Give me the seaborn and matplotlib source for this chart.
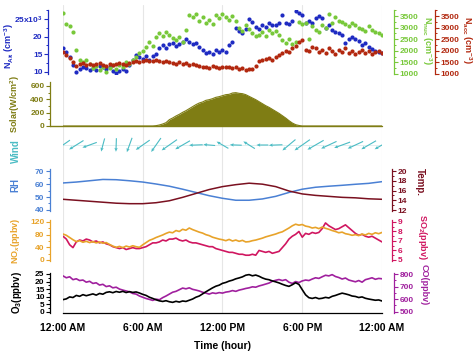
import numpy as np
import matplotlib
matplotlib.use('Agg')
import matplotlib.pyplot as plt
import seaborn as sns
from matplotlib.ticker import AutoMinorLocator, MultipleLocator

sns.set_style('white')
plt.rcParams['font.family'] = ['Liberation Sans', 'DejaVu Sans']
plt.rcParams['font.weight'] = 'bold'
plt.rcParams['mathtext.fontset'] = 'custom'
plt.rcParams['mathtext.rm'] = 'Liberation Sans:bold'
plt.rcParams['mathtext.bf'] = 'Liberation Sans:bold'
plt.rcParams['mathtext.it'] = 'Liberation Sans:bold:italic'

# ---------------- data ----------------
hours = np.arange(0, 24.01, 0.25)          # 15-min time axis (hours)
hourly = np.arange(0, 25)                  # hourly time axis
time_ticks = [0, 6, 12, 18, 24]
time_labels = ['12:00 AM', '6:00 AM', '12:00 PM', '6:00 PM', '12:00 AM']

n_ait = [16.8, 15.7, 14.3, 12.0, 10.0, 10.8, 11.5, 11.0, 10.6, 11.2, 10.5, 11.8,
         11.3, 10.9, 11.5, 10.2, 9.8, 10.4, 10.9, 10.3, 12.0, 13.5, 14.8, 14.2,
         13.6, 14.5, 13.3, 14.6, 15.2, 16.8, 17.5, 16.9, 17.8, 18.2, 17.3, 17.9,
         18.6, 19.2, 18.4, 17.8, 18.3, 17.2, 16.1, 15.3, 15.8, 15.0, 16.2, 15.7,
         16.1, 15.6, 17.5, 18.6, 22.5, 21.5, 21.0, 22.2, 25.0, 24.2, 22.6, 22.2,
         23.4, 22.8, 23.9, 23.2, 23.2, 23.9, 26.0, 24.0, 23.6, 24.5, 27.4, 26.6,
         26.2, 24.0, 24.3, 23.8, 25.2, 25.8, 25.4, 22.4, 23.3, 22.0, 21.3, 21.0,
         20.6, 18.2, 19.4, 20.0, 19.3, 18.7, 17.6, 18.2, 17.0, 16.4, 15.9, 15.7,
         15.4]
n_nuc = [3630, 3150, 3080, 2800, 2050, 1600, 1500, 1620, 1450, 1250, 1350, 1180,
         1300, 1100, 1250, 1400, 1200, 1390, 1300, 1500, 1450, 1600, 1750, 1900,
         2000, 2160, 2380, 2200, 2600, 2750, 2650, 2800, 2700, 2550, 2450, 2600,
         2400, 2900, 3550, 3450, 3600, 3300, 3450, 3200, 3350, 3150, 3550, 3400,
         3600, 3450, 3350, 3500, 3300, 3000, 2850, 3100, 2950, 2750, 2650, 2700,
         2800, 2650, 2900, 2750, 2850, 2700, 2450, 2350, 2500, 2300, 2400, 3250,
         3150, 3200, 2500, 3050, 2900, 2800, 3100, 3000, 3600, 3200, 3450, 3300,
         3250, 3150, 3050, 3200, 3100, 3000, 2950, 2850, 3050, 2900, 2800, 2750,
         2700]
n_acc = [1950, 1800, 1700, 1500, 1350, 1420, 1460, 1400, 1450, 1380, 1420, 1470,
         1400, 1350, 1430, 1380, 1420, 1470, 1450, 1400, 1480, 1520, 1550, 1500,
         1560, 1600, 1580, 1550, 1600, 1580, 1520, 1560, 1500, 1480, 1450, 1500,
         1430, 1460, 1400, 1420, 1380, 1350, 1300, 1320, 1280, 1330, 1300, 1270,
         1320, 1290, 1310, 1250, 1300, 1220, 1260, 1180, 1230, 1200, 1350, 1550,
         1600, 1650, 1700, 1620, 1750, 1800, 1900, 2000, 1950, 2100, 2200, 2400,
         2450, 2050, 2000, 2150, 2100, 1950, 2050, 1900, 2100, 2000, 1850, 2050,
         1950, 2100, 1900, 2000, 1850, 1950, 2050, 1900, 2000, 1850, 1950, 2000,
         1900]
solar = [0] * 28 + [5, 15, 30, 50, 95, 120, 150, 175, 205, 230, 260, 290,
                    320, 345, 360, 385, 395, 410, 430, 440, 455, 470, 475, 495,
                    500, 490, 485, 470, 445, 420, 395, 365, 335, 305, 280, 250,
                    220, 190, 155, 120, 80, 45, 20, 8] + [0] * 25
wind_dir = [215, 212, 200, 255, 268, 250, 215, 235, 215, 210, 182, 175, 150,
            178, 148, 180, 182, 220, 215, 210, 205, 200, 205, 210, 210]
wind_speed = [1.0, 1.0, 0.9, 0.8, 0.8, 0.9, 1.0, 1.0, 1.1, 1.0, 0.8, 0.7, 0.8,
              0.7, 0.8, 0.7, 0.8, 1.0, 1.1, 1.1, 1.0, 1.0, 1.0, 1.0, 1.0]
rh = [60.8, 61.5, 62.5, 63.5, 63.3, 62.5, 61.5, 60.0, 58.3, 56.0, 53.5, 51.0, 49.0,
      47.5, 47.5, 48.5, 50.5, 53.5, 56.0, 57.5, 58.3, 59.0, 59.8, 60.5, 61.8]
temp = [14.2, 14.0, 13.8, 13.6, 13.4, 13.3, 13.3, 13.5, 13.9, 14.6, 15.4, 16.2, 16.8,
        17.2, 17.5, 17.3, 16.8, 15.9, 15.3, 15.0, 14.8, 14.6, 14.5, 14.3, 14.2]
nox = [82, 78, 71, 64, 58, 61, 56, 59, 55, 58, 54, 57, 53, 55, 49, 44, 40, 43, 39, 44,
       41, 45, 42, 40, 48, 55, 62, 66, 71, 75, 79, 84, 88, 86, 93, 90, 97, 94, 101, 96,
       92, 88, 85, 80, 77, 72, 69, 66, 64, 61, 65, 60, 63, 59, 62, 57, 58, 61, 63, 66,
       69, 73, 76, 79, 82, 86, 89, 95, 101, 108, 113, 110, 112, 107, 105, 101,
       103, 99, 104, 100, 97, 93, 90, 86, 88, 83, 81, 78, 80, 77, 82, 79,
       84, 81, 86, 83, 87]
so2 = [7.5, 7.2, 6.6, 6.3, 6.9, 7.1, 7.0, 7.2, 7.1, 6.9, 7.0, 6.8, 6.9, 6.7, 6.6, 6.4,
       6.3, 6.2, 6.3, 6.1, 6.2, 6.3, 6.2, 6.2, 6.3, 6.4, 6.6, 6.8, 6.8, 6.9, 7.1, 7.0,
       7.2, 7.2, 7.3, 7.1, 7.0, 7.1, 6.9, 6.8, 6.8, 6.7, 6.6, 6.5, 6.4, 6.4, 6.2, 6.1,
       6.0, 5.9, 5.8, 5.8, 5.7, 5.6, 5.6, 5.5, 5.5, 5.6, 5.5, 6.0, 5.9, 5.8, 5.9, 5.7,
       5.8, 5.9, 6.3, 6.7, 7.2, 7.5, 7.7, 8.0, 7.4, 7.8, 7.7, 7.9, 7.8, 7.9, 8.3, 8.9,
       8.6, 8.4, 8.2, 8.3, 8.5, 8.7, 8.4, 8.1, 7.8, 7.6, 7.7, 7.5, 7.4, 7.5, 7.3, 7.1,
       6.9]
o3 = [8.0, 8.5, 9.8, 9.4, 10.8, 10.2, 11.3, 10.6, 11.2, 11.8, 11.0, 12.1,
      11.6, 12.8, 13.2, 12.6, 13.4, 12.9, 13.5, 12.7, 13.3, 12.8, 13.1, 12.4,
      11.5, 10.8, 9.6, 8.8, 7.9, 7.2, 6.8, 7.3, 6.6, 6.2, 6.9, 6.4,
      7.1, 6.8, 7.6, 8.4, 9.6, 10.4, 11.8, 13.2, 14.5, 15.8, 16.9, 17.6,
      18.8, 19.4, 20.3, 20.9, 21.8, 22.4, 23.1, 24.2, 24.6, 23.8, 24.3, 23.5,
      22.4, 21.6, 21.2, 20.4, 19.8, 19.1, 18.2, 17.4, 16.8, 17.9, 19.2, 18.1,
      14.6, 11.2, 9.3, 8.8, 9.4, 8.6, 8.9, 9.5, 9.1, 10.2, 10.8, 11.6,
      12.3, 11.8, 11.2, 10.4, 10.1, 9.4, 9.8, 8.9, 8.4, 8.0, 7.6, 7.8, 7.1]
co = [785, 770, 778, 755, 762, 748, 752, 735, 742, 725, 730, 712, 718, 700, 706, 690,
      695, 680, 672, 665, 658, 645, 640, 625, 615, 605, 598, 590, 600, 595, 612, 625,
      640, 655, 662, 675, 688, 682, 690, 678, 672, 665, 655, 648, 640, 650, 645, 652,
      648, 656, 660, 668, 662, 672, 678, 685, 690, 698, 695, 705, 712, 720, 728, 742,
      750, 756, 748, 755, 735, 725, 740, 732, 745, 752, 748, 760, 770, 765, 778, 790,
      785, 795, 780, 772, 760, 768, 752, 745, 738, 748, 735, 755, 762, 770, 758, 765,
      762]

# ---------------- colours ----------------
C_AIT = '#1f2bc2'
C_NUC = '#78c83a'
C_ACC = '#b2280f'
C_SOL = '#7f7d14'
C_WIND = '#4bbcc4'
C_RH = '#4a80d4'
C_TEMP = '#7a1020'
C_NOX = '#e8a32a'
C_SO2 = '#d01660'
C_O3 = '#000000'
C_CO = '#a0209e'

W, H = 474, 354
X0, X1 = 63, 382


def rect(top, bot):
    return [X0 / W, 1 - bot / H, (X1 - X0) / W, (bot - top) / H]


fig = plt.figure(figsize=(W / 100, H / 100), dpi=100)

# background grid
bg = fig.add_axes(rect(5, 313))
bg.set_xlim(0, 24)
bg.set_xticks(time_ticks)
bg.set_yticks([])
bg.tick_params(axis='x', length=0, labelbottom=False)
bg.grid(axis='x', color='#e6e6e6', linewidth=0.8)
for s in bg.spines.values():
    s.set_visible(False)
bg.set_zorder(0)


def panel(top, bot):
    ax = fig.add_axes(rect(top, bot))
    ax.patch.set_alpha(0)
    ax.set_zorder(2)
    ax.set_xlim(0, 24)
    ax.set_xticks([])
    ax.grid(False)
    for s in ['top', 'right', 'bottom']:
        ax.spines[s].set_visible(False)
    return ax


def style_y(ax, side, color, offset_px, ticks, minor=2, labels=None):
    other = 'right' if side == 'left' else 'left'
    ax.spines[side].set_visible(True)
    ax.spines[side].set_position(('outward', offset_px * 0.72))
    ax.spines[side].set_color(color)
    ax.spines[side].set_linewidth(0.9)
    ax.spines[other].set_visible(False)
    ax.spines['top'].set_visible(False)
    ax.spines['bottom'].set_visible(False)
    ax.yaxis.set_ticks_position(side)
    ax.set_yticks(ticks)
    if labels is not None:
        ax.set_yticklabels(labels)
    ax.yaxis.set_minor_locator(AutoMinorLocator(minor))
    ax.tick_params(axis='y', which='major', colors=color, labelsize=6,
                   length=3, width=0.8, direction='out', pad=1)
    ax.tick_params(axis='y', which='minor', colors=color, length=1.6,
                   width=0.7, direction='out')
    for t in ax.get_yticklabels():
        t.set_fontweight('bold')


def flabel(x, y, s, color, rot=90, size=7):
    fig.text(x / W, 1 - y / H, s, rotation=rot, ha='center', va='center',
             color=color, fontsize=size, fontweight='bold')


# ---- panel 1: particle number ----
ax1 = panel(10, 74)
sns.scatterplot(x=hours, y=n_ait, ax=ax1, color=C_AIT, s=9, linewidth=0, zorder=3)
ax1.set_ylim(9.43, 27.55)
style_y(ax1, 'left', C_AIT, 15, [10, 15, 20, 25],
        labels=['10', '15', '20', r'25x10$^{3}$'])
ax1.set_ylabel('')
ax1n = ax1.twinx()
ax1n.set_xlim(0, 24)
sns.scatterplot(x=hours, y=n_nuc, ax=ax1n, color=C_NUC, s=9, linewidth=0)
ax1n.set_ylim(1000, 3760)
style_y(ax1n, 'right', C_NUC, 12, [1000, 1500, 2000, 2500, 3000, 3500])
ax1n.set_ylabel('')
ax1a = ax1.twinx()
ax1a.set_xlim(0, 24)
sns.scatterplot(x=hours, y=n_acc, ax=ax1a, color=C_ACC, s=9, linewidth=0)
ax1a.set_ylim(1000, 3760)
style_y(ax1a, 'right', C_ACC, 53, [1000, 1500, 2000, 2500, 3000, 3500])
ax1a.set_ylabel('')
for a in (ax1, ax1n, ax1a):
    a.set_xticks([])
flabel(9, 46, r'N$_{\mathbf{Ait}}$ (cm$^{\mathbf{-3}}$)', C_AIT, size=6.5)
flabel(427, 40, r'N$_{\mathbf{nuc}}$ (cm$^{\mathbf{-3}}$)', C_NUC, rot=270, size=6.5)
flabel(467, 40, r'N$_{\mathbf{acc}}$ (cm$^{\mathbf{-3}}$)', C_ACC, rot=270, size=6.5)

# ---- panel 2: solar ----
ax2 = panel(82, 126)
ax2.fill_between(hours, solar, color=C_SOL, linewidth=0)
sns.lineplot(x=hours, y=solar, ax=ax2, color=C_SOL, linewidth=0.8)
ax2.set_ylim(0, 660)
style_y(ax2, 'left', C_SOL, 13, [0, 200, 400, 600])
ax2.set_ylabel('')
ax2.set_xticks([])
ax2.axhline(0, xmin=-0.04, xmax=1, color=C_SOL, linewidth=1.0, clip_on=False)
flabel(15, 104, r'Solar(W/cm$^{2}$)', C_SOL, size=6.5)

# ---- panel 3: wind ----
ax3 = panel(130, 160)
ax3.spines['left'].set_visible(False)
ax3.set_yticks([])
ax3.set_ylim(-1, 1)
ax3.axhline(0, color='#dcecee', linewidth=0.6)
wd = np.deg2rad(np.array(wind_dir, dtype=float))
ws = np.array(wind_speed)
ax3.quiver(hourly, np.zeros(len(hourly)), ws * np.cos(wd), ws * np.sin(wd),
           angles='uv', scale_units='inches', scale=1 / 0.17, pivot='middle',
           color=C_WIND, width=0.0035, headwidth=3.0, headlength=3.5,
           headaxislength=3, zorder=3)
flabel(16, 151, 'Wind', C_WIND, size=7)

# ---- panel 4: RH / temperature ----
ax4 = panel(169, 211)
sns.lineplot(x=hourly, y=rh, ax=ax4, color=C_RH, linewidth=1.1)
ax4.set_ylim(39.23, 71.54)
style_y(ax4, 'left', C_RH, 13, [40, 50, 60, 70])
ax4.set_ylabel('')
ax4t = ax4.twinx()
ax4t.set_xlim(0, 24)
sns.lineplot(x=hourly, y=temp, ax=ax4t, color=C_TEMP, linewidth=1.1)
ax4t.set_ylim(11.8, 20.41)
style_y(ax4t, 'right', C_TEMP, 10, [12, 14, 16, 18, 20])
ax4t.set_ylabel('')
for a in (ax4, ax4t):
    a.set_xticks([])
flabel(15, 185, 'RH', C_RH, size=7)
flabel(420, 182, 'Temp.', C_TEMP, rot=270, size=7)

# ---- panel 5: NOx / SO2 ----
ax5 = panel(220, 261)
sns.lineplot(x=hours, y=nox, ax=ax5, color=C_NOX, linewidth=1.2, zorder=3)
ax5.set_ylim(-3.16, 126.3)
style_y(ax5, 'left', C_NOX, 13, [0, 40, 80, 120])
ax5.set_ylabel('')
ax5s = ax5.twinx()
ax5s.set_xlim(0, 24)
sns.lineplot(x=hours, y=so2, ax=ax5s, color=C_SO2, linewidth=1.2)
ax5s.set_ylim(4.89, 9.21)
style_y(ax5s, 'right', C_SO2, 10, [5, 6, 7, 8, 9])
ax5s.set_ylabel('')
for a in (ax5, ax5s):
    a.set_xticks([])
ax5.set_zorder(3)
ax5s.set_zorder(2)
flabel(15, 241, r'NO$_{x}$(ppbv)', C_NOX, size=6.5)
flabel(422, 237, r'SO$_{2}$(ppbv)', C_SO2, rot=270, size=6.5)

# ---- panel 6: O3 / CO ----
ax6 = panel(273, 313)
sns.lineplot(x=hours, y=o3, ax=ax6, color=C_O3, linewidth=1.2, zorder=3)
ax6.set_ylim(-0.86, 25.66)
style_y(ax6, 'left', C_O3, 13, [0, 5, 10, 15, 20, 25])
ax6.set_ylabel('')
ax6c = ax6.twinx()
ax6c.set_xlim(0, 24)
sns.lineplot(x=hours, y=co, ax=ax6c, color=C_CO, linewidth=1.2)
ax6c.set_ylim(489.7, 808)
style_y(ax6c, 'right', C_CO, 12, [500, 600, 700, 800])
ax6c.set_ylabel('')
ax6c.set_xticks([])
ax6.set_zorder(3)
ax6c.set_zorder(2)
ax6.spines['bottom'].set_visible(True)
ax6.spines['bottom'].set_color('black')
ax6.spines['bottom'].set_linewidth(0.9)
ax6.set_xticks(time_ticks)
ax6.set_xticklabels(time_labels)
ax6.xaxis.set_minor_locator(MultipleLocator(0.25))
ax6.tick_params(axis='x', which='major', length=4, width=0.8, direction='out',
                labelsize=7.5, pad=3, colors='black')
ax6.tick_params(axis='x', which='minor', length=2, width=0.6, direction='out')
for t in ax6.get_xticklabels():
    t.set_fontweight('bold')
ax6.set_xlabel('')
flabel(17, 292, r'O$_{3}$(ppbv)', C_O3, size=7)
flabel(424, 285, 'CO(ppbv)', C_CO, rot=270, size=6.5)

fig.text((X0 + X1) / 2 / W, 1 - 346 / H, 'Time (hour)', ha='center', va='center',
         fontsize=7.5, fontweight='bold', color='black')

fig.savefig('out.png', dpi=100)
